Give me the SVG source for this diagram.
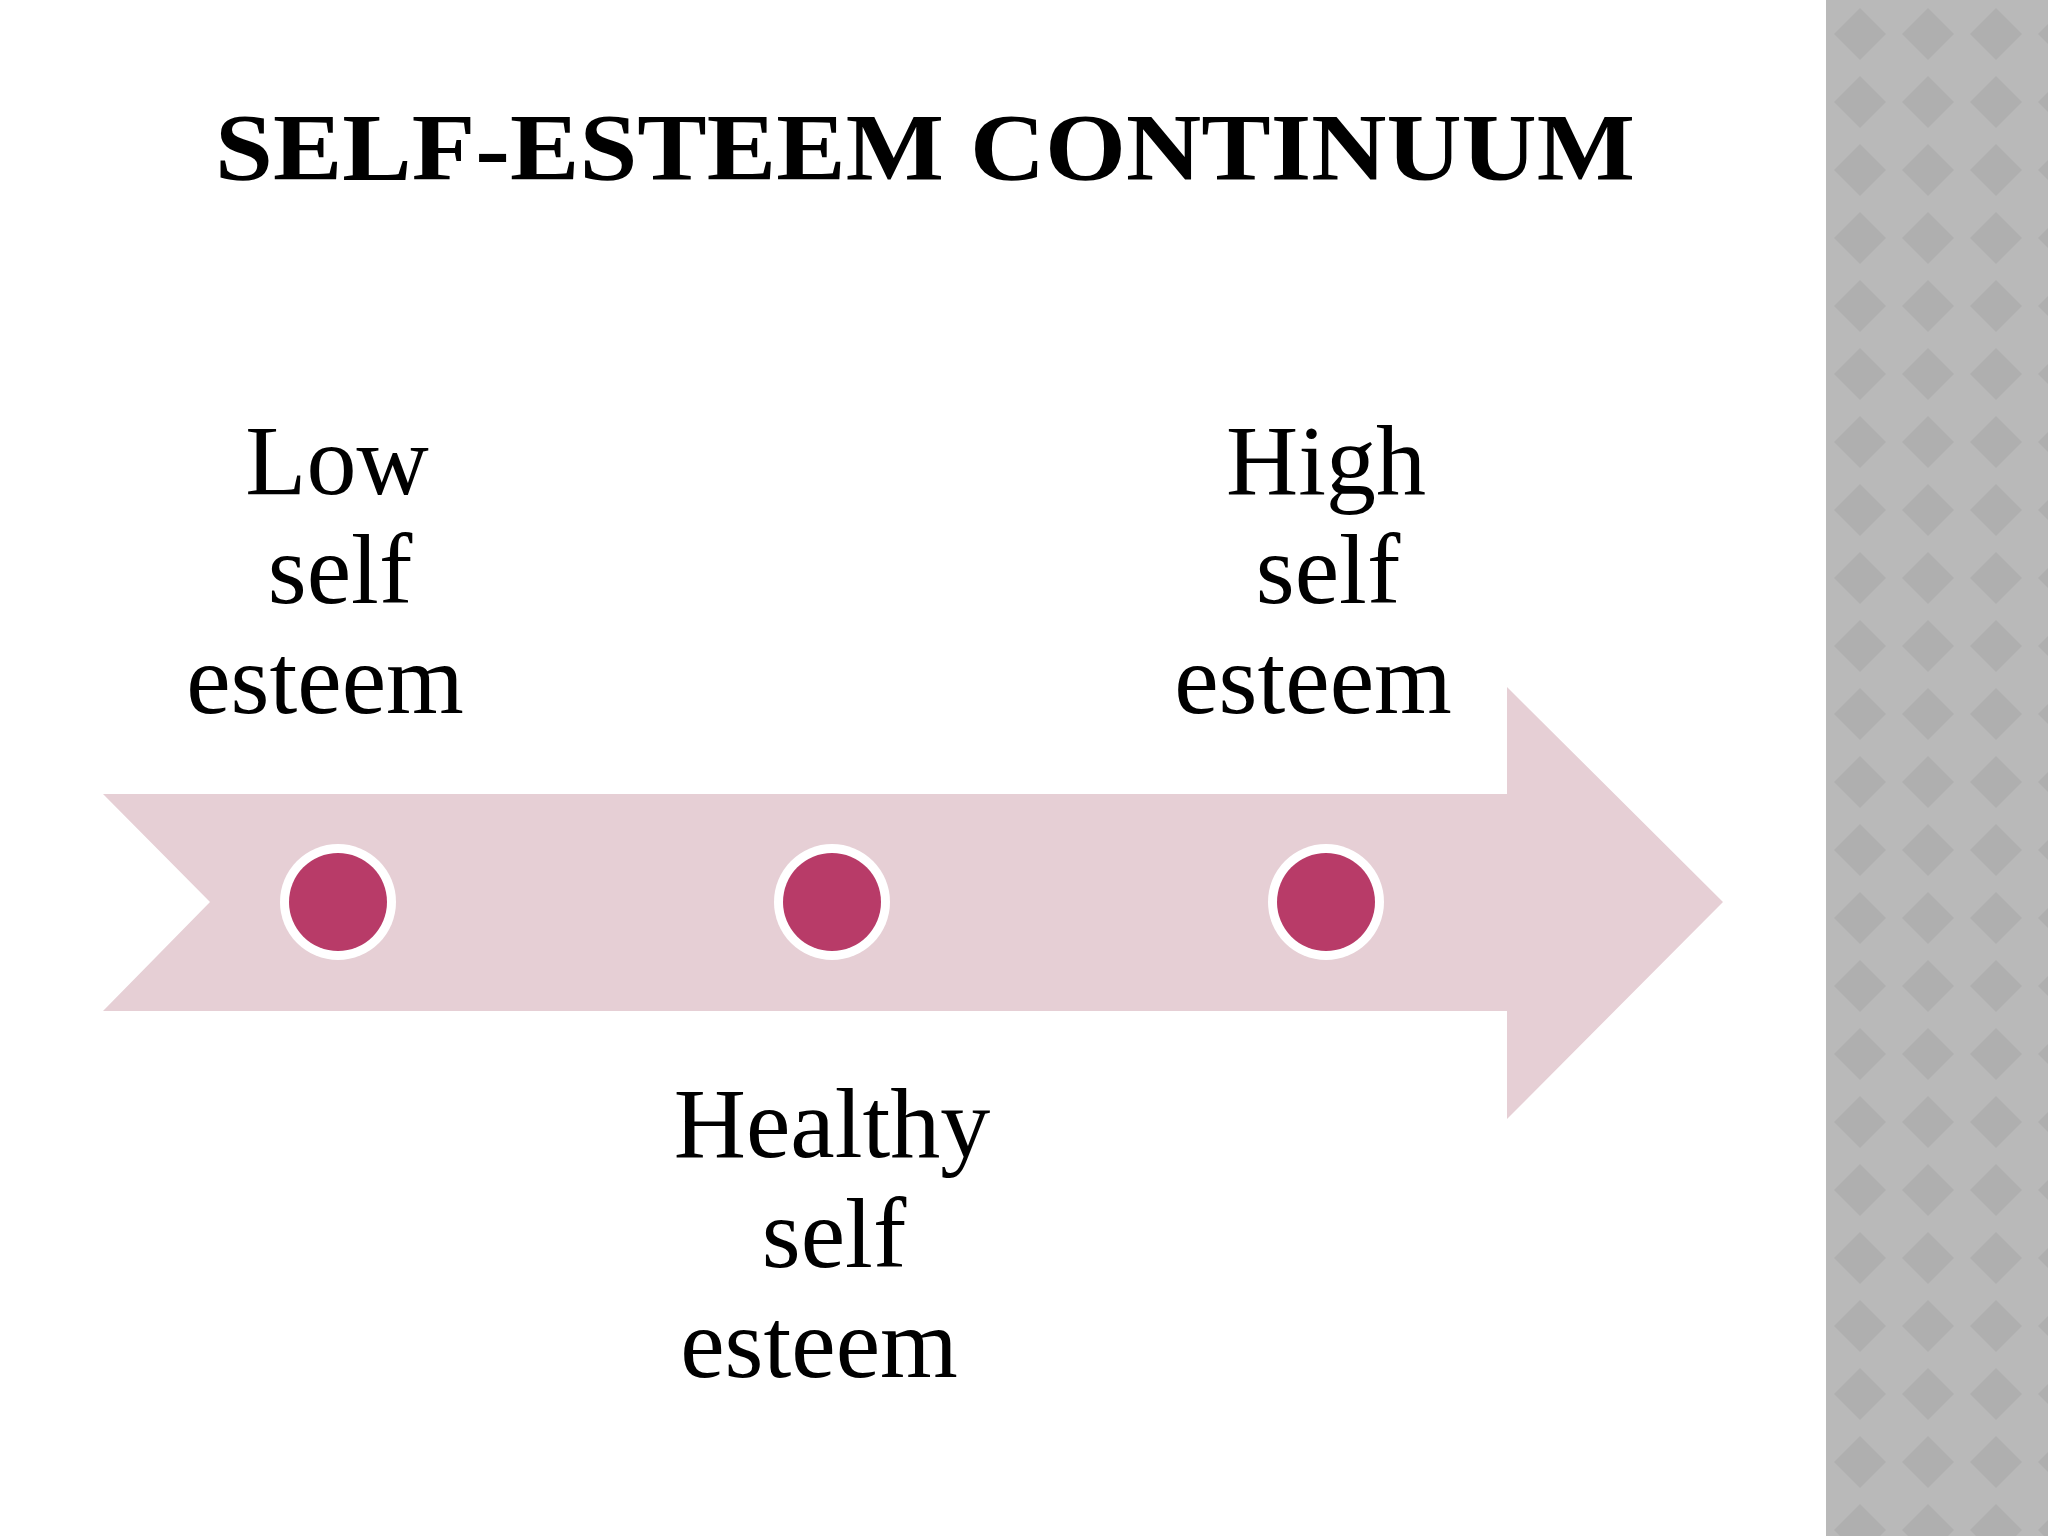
<svg xmlns="http://www.w3.org/2000/svg" width="2048" height="1536" viewBox="0 0 2048 1536">
<defs>
<pattern id="dia" width="68" height="68" patternUnits="userSpaceOnUse" x="1826" y="0">
<rect width="68" height="68" fill="#b9b9b9"/>
<path d="M34 8 L60 34 L34 60 L8 34 Z" fill="#afafaf"/>
</pattern>
<style>
.lbl{font-family:"Liberation Serif","Times New Roman",serif;font-size:100px;fill:#000;text-anchor:middle}
.dot-o{fill:#fff}
.dot-i{fill:#b83b68}
</style>
</defs>
<rect width="2048" height="1536" fill="#fff"/>
<rect x="1826" y="0" width="222" height="1536" fill="url(#dia)"/>
<text x="925" y="180" font-family="Liberation Serif,serif" font-weight="bold" font-size="96" text-anchor="middle" textLength="1420" lengthAdjust="spacingAndGlyphs">SELF-ESTEEM CONTINUUM</text>
<g id="arrow"><path d="M103 794 L1507 794 L1507 687 L1723 902 L1507 1119 L1507 1011 L103 1011 L210 902 Z" fill="#e6cfd5"/></g>
<g id="connectors"></g>
<g id="dot1"><circle class="dot-o" cx="338" cy="902" r="58"/><circle class="dot-i" cx="338" cy="902" r="49"/></g>
<g id="dot2"><circle class="dot-o" cx="832" cy="902" r="58"/><circle class="dot-i" cx="832" cy="902" r="49"/></g>
<g id="dot3"><circle class="dot-o" cx="1326" cy="902" r="58"/><circle class="dot-i" cx="1326" cy="902" r="49"/></g>
<g id="low"><text class="lbl" x="337" y="494">Low</text><text class="lbl" x="340" y="603">self</text><text class="lbl" x="325" y="713">esteem</text></g>
<g id="high"><text class="lbl" x="1326" y="494">High</text><text class="lbl" x="1328" y="603">self</text><text class="lbl" x="1313" y="713">esteem</text></g>
<g id="healthy"><text class="lbl" x="832" y="1157">Healthy</text><text class="lbl" x="834" y="1267">self</text><text class="lbl" x="819" y="1377">esteem</text></g>
</svg>
